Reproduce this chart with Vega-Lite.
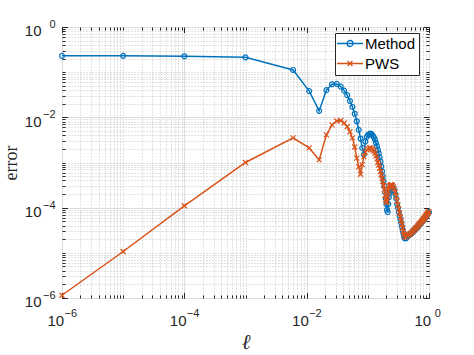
{
  "$schema": "https://vega.github.io/schema/vega-lite/v6.json",
  "autosize": {"type": "none"},
  "padding": {"left": 62, "top": 27, "right": 45, "bottom": 57},
  "width": 367,
  "height": 271,
  "background": "white",
  "config": {
    "view": {"stroke": "#262626", "strokeWidth": 1},
    "axis": {"domain": false, "labelFont": "Liberation Sans", "labelFontSize": 15, "labelColor": "#262626", "tickColor": "#262626", "tickWidth": 1, "titleFont": "Liberation Serif", "titleFontWeight": "normal", "titleColor": "#262626", "labelFlush": false, "labelOverlap": false, "labelBound": false},
    "legend": {"orient": "none", "legendX": 273, "legendY": 6, "padding": 3, "rowPadding": 4, "columnPadding": 0, "symbolSize": 169, "symbolOffset": 0, "labelOffset": 12, "labelFont": "Liberation Sans", "labelFontSize": 15, "labelColor": "#000000", "strokeColor": "#262626", "fillColor": "white", "symbolStrokeWidth": 1.3, "cornerRadius": 0}
  },
  "data": {"values": [
    {"x": 1e-6, "Method": 0.23, "PWS": 1.15e-6},
    {"x": 1e-5, "Method": 0.23, "PWS": 1.07e-5},
    {"x": 1e-4, "Method": 0.225, "PWS": 1.1e-4},
    {"x": 0.001, "Method": 0.213, "PWS": 0.001},
    {"x": 0.006, "Method": 0.112, "PWS": 0.0035},
    {"x": 0.011, "Method": 0.038, "PWS": 0.0021},
    {"x": 0.016, "Method": 0.0139, "PWS": 0.00114},
    {"x": 0.021, "Method": 0.040, "PWS": 0.0041},
    {"x": 0.026, "Method": 0.054, "PWS": 0.0068},
    {"x": 0.031, "Method": 0.055, "PWS": 0.0083},
    {"x": 0.036, "Method": 0.048, "PWS": 0.0085},
    {"x": 0.041, "Method": 0.039, "PWS": 0.0075},
    {"x": 0.046, "Method": 0.031, "PWS": 0.0062},
    {"x": 0.051, "Method": 0.023, "PWS": 0.0048},
    {"x": 0.056, "Method": 0.017, "PWS": 0.0035},
    {"x": 0.061, "Method": 0.012, "PWS": 0.0022},
    {"x": 0.066, "Method": 0.0082, "PWS": 0.00125},
    {"x": 0.071, "Method": 0.0053, "PWS": 0.0008},
    {"x": 0.076, "Method": 0.0034, "PWS": 0.00055},
    {"x": 0.081, "Method": 0.0021, "PWS": 0.0009},
    {"x": 0.086, "Method": 0.0015, "PWS": 0.00135},
    {"x": 0.091, "Method": 0.0029, "PWS": 0.0017},
    {"x": 0.096, "Method": 0.0037, "PWS": 0.0019},
    {"x": 0.101, "Method": 0.0041, "PWS": 0.002},
    {"x": 0.106, "Method": 0.0043, "PWS": 0.0021},
    {"x": 0.111, "Method": 0.0044, "PWS": 0.0021},
    {"x": 0.116, "Method": 0.0042, "PWS": 0.002},
    {"x": 0.121, "Method": 0.0039, "PWS": 0.0019},
    {"x": 0.126, "Method": 0.0036, "PWS": 0.0018},
    {"x": 0.131, "Method": 0.0032, "PWS": 0.0016},
    {"x": 0.136, "Method": 0.0027, "PWS": 0.0014},
    {"x": 0.141, "Method": 0.0023, "PWS": 0.0012},
    {"x": 0.146, "Method": 0.0019, "PWS": 0.001},
    {"x": 0.151, "Method": 0.0016, "PWS": 0.00088},
    {"x": 0.156, "Method": 0.0013, "PWS": 0.00075},
    {"x": 0.161, "Method": 0.00105, "PWS": 0.00063},
    {"x": 0.166, "Method": 0.00082, "PWS": 0.00053},
    {"x": 0.171, "Method": 0.00064, "PWS": 0.00045},
    {"x": 0.176, "Method": 0.0005, "PWS": 0.00038},
    {"x": 0.181, "Method": 0.00039, "PWS": 0.00031},
    {"x": 0.186, "Method": 0.0003, "PWS": 0.00025},
    {"x": 0.191, "Method": 0.00022, "PWS": 0.00019},
    {"x": 0.196, "Method": 0.00016, "PWS": 0.00015},
    {"x": 0.201, "Method": 0.00012, "PWS": 0.00013},
    {"x": 0.206, "Method": 0.00009, "PWS": 0.00014},
    {"x": 0.211, "Method": 0.00008, "PWS": 0.00018},
    {"x": 0.216, "Method": 0.00012, "PWS": 0.00023},
    {"x": 0.221, "Method": 0.00017, "PWS": 0.00027},
    {"x": 0.226, "Method": 0.00021, "PWS": 0.0003},
    {"x": 0.231, "Method": 0.00024, "PWS": 0.00031},
    {"x": 0.236, "Method": 0.00027, "PWS": 0.00032},
    {"x": 0.241, "Method": 0.00028, "PWS": 0.00032},
    {"x": 0.246, "Method": 0.00029, "PWS": 0.00032},
    {"x": 0.251, "Method": 0.00029, "PWS": 0.00031},
    {"x": 0.261, "Method": 0.00027, "PWS": 0.00029},
    {"x": 0.271, "Method": 0.00024, "PWS": 0.00026},
    {"x": 0.281, "Method": 0.0002, "PWS": 0.00022},
    {"x": 0.291, "Method": 0.00016, "PWS": 0.00018},
    {"x": 0.301, "Method": 0.00012, "PWS": 0.00014},
    {"x": 0.311, "Method": 0.0001, "PWS": 0.000115},
    {"x": 0.321, "Method": 0.00008, "PWS": 0.000092},
    {"x": 0.331, "Method": 0.000066, "PWS": 0.000076},
    {"x": 0.341, "Method": 0.000055, "PWS": 0.000062},
    {"x": 0.351, "Method": 0.000046, "PWS": 0.000052},
    {"x": 0.361, "Method": 0.000038, "PWS": 0.000043},
    {"x": 0.371, "Method": 0.000032, "PWS": 0.000036},
    {"x": 0.381, "Method": 0.000027, "PWS": 0.00003},
    {"x": 0.391, "Method": 0.000023, "PWS": 0.000026},
    {"x": 0.401, "Method": 0.000021, "PWS": 0.000023},
    {"x": 0.421, "Method": 0.000021, "PWS": 0.000022},
    {"x": 0.441, "Method": 0.000023, "PWS": 0.000024},
    {"x": 0.461, "Method": 0.000024, "PWS": 0.000025},
    {"x": 0.481, "Method": 0.000025, "PWS": 0.000026},
    {"x": 0.501, "Method": 0.000026, "PWS": 0.000027},
    {"x": 0.521, "Method": 0.000027, "PWS": 0.000028},
    {"x": 0.541, "Method": 0.000029, "PWS": 0.00003},
    {"x": 0.561, "Method": 0.00003, "PWS": 0.000031},
    {"x": 0.581, "Method": 0.000032, "PWS": 0.000033},
    {"x": 0.601, "Method": 0.000033, "PWS": 0.000035},
    {"x": 0.621, "Method": 0.000035, "PWS": 0.000036},
    {"x": 0.641, "Method": 0.000036, "PWS": 0.000038},
    {"x": 0.661, "Method": 0.000038, "PWS": 0.00004},
    {"x": 0.681, "Method": 0.00004, "PWS": 0.000042},
    {"x": 0.701, "Method": 0.000042, "PWS": 0.000044},
    {"x": 0.721, "Method": 0.000044, "PWS": 0.000046},
    {"x": 0.741, "Method": 0.000046, "PWS": 0.000048},
    {"x": 0.761, "Method": 0.000048, "PWS": 0.00005},
    {"x": 0.781, "Method": 0.00005, "PWS": 0.000052},
    {"x": 0.801, "Method": 0.000052, "PWS": 0.000054},
    {"x": 0.821, "Method": 0.000054, "PWS": 0.000057},
    {"x": 0.841, "Method": 0.000057, "PWS": 0.000059},
    {"x": 0.861, "Method": 0.000059, "PWS": 0.000062},
    {"x": 0.881, "Method": 0.000062, "PWS": 0.000065},
    {"x": 0.901, "Method": 0.000065, "PWS": 0.000068},
    {"x": 0.921, "Method": 0.000068, "PWS": 0.000071},
    {"x": 0.941, "Method": 0.000071, "PWS": 0.000074},
    {"x": 0.961, "Method": 0.000074, "PWS": 0.000077},
    {"x": 0.981, "Method": 0.000077, "PWS": 0.00008},
    {"x": 0.996, "Method": 0.00008, "PWS": 0.000082}
  ]},
  "transform": [{"fold": ["Method", "PWS"], "as": ["s", "y"]}],
  "layer": [
    {
      "mark": {"type": "point", "opacity": 0},
      "encoding": {
        "x": {"field": "x", "type": "quantitative", "scale": {"type": "log", "domain": [1e-6, 1], "nice": false},
          "axis": {"orient": "bottom", "values": [2e-6,3e-6,4e-6,5e-6,6e-6,7e-6,8e-6,9e-6,1e-5,2e-5,3e-5,4e-5,5e-5,6e-5,7e-5,8e-5,9e-5,2e-4,3e-4,4e-4,5e-4,6e-4,7e-4,8e-4,9e-4,1e-3,2e-3,3e-3,4e-3,5e-3,6e-3,7e-3,8e-3,9e-3,2e-2,3e-2,4e-2,5e-2,6e-2,7e-2,8e-2,9e-2,1e-1,2e-1,3e-1,4e-1,5e-1,6e-1,7e-1,8e-1,9e-1], "grid": true, "gridDash": [1, 2], "gridColor": "#c4c4c4", "tickSize": -3, "labels": false, "title": null}},
        "y": {"field": "y", "type": "quantitative", "scale": {"type": "log", "domain": [1e-6, 1], "nice": false},
          "axis": {"orient": "left", "values": [2e-6,3e-6,4e-6,5e-6,6e-6,7e-6,8e-6,9e-6,1e-5,2e-5,3e-5,4e-5,5e-5,6e-5,7e-5,8e-5,9e-5,2e-4,3e-4,4e-4,5e-4,6e-4,7e-4,8e-4,9e-4,1e-3,2e-3,3e-3,4e-3,5e-3,6e-3,7e-3,8e-3,9e-3,2e-2,3e-2,4e-2,5e-2,6e-2,7e-2,8e-2,9e-2,1e-1,2e-1,3e-1,4e-1,5e-1,6e-1,7e-1,8e-1,9e-1], "grid": true, "gridDash": [1, 2], "gridColor": "#c4c4c4", "tickSize": -3, "labels": false, "title": null}}
      }
    },
    {
      "mark": {"type": "point", "opacity": 0},
      "encoding": {
        "x": {"field": "x", "type": "quantitative", "scale": {"type": "log", "domain": [1e-6, 1], "nice": false},
          "axis": {"orient": "bottom", "values": [1e-6, 1e-4, 0.01, 1], "grid": true, "gridColor": "#dcdcdc", "tickSize": -5.5, "labelPadding": 21, "labelOffset": -6.7,
            "labelExpr": "'10'",
            "title": "ℓ", "titleFontStyle": "italic", "titleFontSize": 21, "titlePadding": 3}},
        "y": {"field": "y", "type": "quantitative", "scale": {"type": "log", "domain": [1e-6, 1], "nice": false},
          "axis": {"orient": "left", "values": [1e-6, 1e-4, 0.01, 1], "grid": true, "gridColor": "#dcdcdc", "tickSize": -5.5, "labelPadding": 26.5, "labelOffset": 3.8,
            "labelExpr": "'10'",
            "title": "error", "titleFontSize": 18, "titlePadding": 4}}
      }
    },
    {
      "mark": {"type": "point", "opacity": 0},
      "encoding": {
        "x": {"field": "x", "type": "quantitative", "scale": {"type": "log", "domain": [1e-6, 1], "nice": false},
          "axis": {"orient": "bottom", "values": [1e-6, 1e-4, 0.01, 1], "grid": false, "tickSize": -5.5, "labelPadding": 14.7, "labelOffset": 8.3, "labelFontSize": 11,
            "labelExpr": "datum.value < 5e-6 ? '−6' : datum.value < 5e-4 ? '−4' : datum.value < 0.05 ? '−2' : '0'",
            "title": null}},
        "y": {"field": "y", "type": "quantitative", "scale": {"type": "log", "domain": [1e-6, 1], "nice": false},
          "axis": {"orient": "left", "values": [1e-6, 1e-4, 0.01, 1], "grid": false, "tickSize": -5.5, "labelPadding": 12.5, "labelOffset": -2.5, "labelFontSize": 11,
            "labelExpr": "datum.value < 5e-6 ? '−6' : datum.value < 5e-4 ? '−4' : datum.value < 0.05 ? '−2' : '0'",
            "title": null}}
      }
    },
    {
      "mark": {"type": "point", "opacity": 0},
      "encoding": {
        "x": {"field": "x", "type": "quantitative", "scale": {"type": "log", "domain": [1e-6, 1], "nice": false},
          "axis": {"orient": "top", "values": [2e-6,3e-6,4e-6,5e-6,6e-6,7e-6,8e-6,9e-6,1e-5,2e-5,3e-5,4e-5,5e-5,6e-5,7e-5,8e-5,9e-5,2e-4,3e-4,4e-4,5e-4,6e-4,7e-4,8e-4,9e-4,1e-3,2e-3,3e-3,4e-3,5e-3,6e-3,7e-3,8e-3,9e-3,2e-2,3e-2,4e-2,5e-2,6e-2,7e-2,8e-2,9e-2,1e-1,2e-1,3e-1,4e-1,5e-1,6e-1,7e-1,8e-1,9e-1], "grid": false, "tickSize": -3, "labels": false, "title": null}},
        "y": {"field": "y", "type": "quantitative", "scale": {"type": "log", "domain": [1e-6, 1], "nice": false},
          "axis": {"orient": "right", "values": [2e-6,3e-6,4e-6,5e-6,6e-6,7e-6,8e-6,9e-6,1e-5,2e-5,3e-5,4e-5,5e-5,6e-5,7e-5,8e-5,9e-5,2e-4,3e-4,4e-4,5e-4,6e-4,7e-4,8e-4,9e-4,1e-3,2e-3,3e-3,4e-3,5e-3,6e-3,7e-3,8e-3,9e-3,2e-2,3e-2,4e-2,5e-2,6e-2,7e-2,8e-2,9e-2,1e-1,2e-1,3e-1,4e-1,5e-1,6e-1,7e-1,8e-1,9e-1], "grid": false, "tickSize": -3, "labels": false, "title": null}}
      }
    },
    {
      "mark": {"type": "point", "opacity": 0},
      "encoding": {
        "x": {"field": "x", "type": "quantitative", "scale": {"type": "log", "domain": [1e-6, 1], "nice": false},
          "axis": {"orient": "top", "values": [1e-6, 1e-4, 0.01, 1], "grid": false, "tickSize": -5.5, "labels": false, "title": null}},
        "y": {"field": "y", "type": "quantitative", "scale": {"type": "log", "domain": [1e-6, 1], "nice": false},
          "axis": {"orient": "right", "values": [1e-6, 1e-4, 0.01, 1], "grid": false, "tickSize": -5.5, "labels": false, "title": null}}
      }
    },
    {
      "transform": [{"filter": "datum.s == 'Method'"}],
      "mark": {"type": "line", "color": "#0072BD", "strokeWidth": 1.5},
      "encoding": {
        "x": {"field": "x", "type": "quantitative", "scale": {"type": "log", "domain": [1e-6, 1], "nice": false}, "axis": null},
        "y": {"field": "y", "type": "quantitative", "scale": {"type": "log", "domain": [1e-6, 1], "nice": false}, "axis": null}
      }
    },
    {
      "transform": [{"filter": "datum.s == 'Method'"}],
      "mark": {"type": "point", "shape": "circle", "filled": false, "color": "#0072BD", "size": 24, "strokeWidth": 1.2, "opacity": 1},
      "encoding": {
        "x": {"field": "x", "type": "quantitative", "scale": {"type": "log", "domain": [1e-6, 1], "nice": false}, "axis": null},
        "y": {"field": "y", "type": "quantitative", "scale": {"type": "log", "domain": [1e-6, 1], "nice": false}, "axis": null}
      }
    },
    {
      "transform": [{"filter": "datum.s == 'PWS'"}],
      "mark": {"type": "line", "color": "#D95319", "strokeWidth": 1.5},
      "encoding": {
        "x": {"field": "x", "type": "quantitative", "scale": {"type": "log", "domain": [1e-6, 1], "nice": false}, "axis": null},
        "y": {"field": "y", "type": "quantitative", "scale": {"type": "log", "domain": [1e-6, 1], "nice": false}, "axis": null}
      }
    },
    {
      "transform": [{"filter": "datum.s == 'PWS'"}],
      "mark": {"type": "point", "shape": "M-1,-1L1,1M-1,1L1,-1", "filled": false, "color": "#D95319", "size": 25, "strokeWidth": 1.2, "opacity": 1},
      "encoding": {
        "x": {"field": "x", "type": "quantitative", "scale": {"type": "log", "domain": [1e-6, 1], "nice": false}, "axis": null},
        "y": {"field": "y", "type": "quantitative", "scale": {"type": "log", "domain": [1e-6, 1], "nice": false}, "axis": null}
      }
    },
    {
      "transform": [{"filter": "false"}],
      "mark": {"type": "point", "filled": false, "strokeWidth": 1.3, "opacity": 1},
      "encoding": {
        "x": {"field": "x", "type": "quantitative", "scale": {"type": "log", "domain": [1e-6, 1], "nice": false}, "axis": null},
        "y": {"field": "y", "type": "quantitative", "scale": {"type": "log", "domain": [1e-6, 1], "nice": false}, "axis": null},
        "color": {"field": "s", "type": "nominal", "scale": {"domain": ["Method", "PWS"], "range": ["#0072BD", "#D95319"]}, "legend": {"title": null}},
        "shape": {"field": "s", "type": "nominal", "scale": {"domain": ["Method", "PWS"], "range": ["M-1.31,0H2.69M0.23,0A0.46,0.46,0,1,1,1.15,0A0.46,0.46,0,1,1,0.23,0", "M-1.31,0H2.69M0.31,-0.38L1.07,0.38M0.31,0.38L1.07,-0.38"]}, "legend": {"title": null}}
      }
    }
  ],
  "resolve": {"axis": {"x": "independent", "y": "independent"}}
}
